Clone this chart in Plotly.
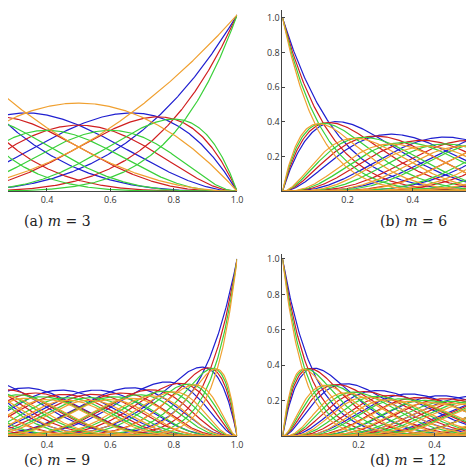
import numpy as np
from math import comb
import plotly.graph_objects as go

# panel parameters: polynomial degrees overlaid in each panel
panel_a_degrees = [3, 4, 5, 2]
panel_b_degrees = [6, 7, 8, 9]
panel_c_degrees = [9, 11, 13, 15]
panel_d_degrees = [12, 14, 16, 18]
colors = ["#1f1fd0", "#d01f1f", "#3ad03a", "#f0a030"]
captions = ["(a) <i>m</i> = 3", "(b) <i>m</i> = 6", "(c) <i>m</i> = 9", "(d) <i>m</i> = 12"]
x_ticks = [0.2, 0.4, 0.6, 0.8, 1.0]
y_ticks = [0.2, 0.4, 0.6, 0.8, 1.0]

t = np.linspace(0, 1, 400)
fig = go.Figure()
panels = [(panel_a_degrees, "x", "y"), (panel_b_degrees, "x2", "y2"),
          (panel_c_degrees, "x3", "y3"), (panel_d_degrees, "x4", "y4")]
for degs, xa, ya in panels:
    for ci, n in enumerate(degs):
        for k in range(n + 1):
            b = comb(n, k) * t**k * (1 - t)**(n - k)
            fig.add_trace(go.Scatter(x=t, y=b, mode="lines", xaxis=xa, yaxis=ya,
                                     line=dict(color=colors[ci], width=1.2), showlegend=False,
                                     hoverinfo="skip"))

ax = dict(showgrid=False, zeroline=False, showline=True, linecolor="#444", linewidth=1,
          ticks="inside", ticklen=3, tickcolor="#444", tickfont=dict(size=9, color="#333"),
          tickvals=x_ticks, ticktext=[f"{v:.1f}" for v in x_ticks])
ay = dict(showgrid=False, zeroline=False, showline=True, linecolor="#444", linewidth=1,
          ticks="inside", ticklen=3, tickcolor="#444", tickfont=dict(size=9, color="#333"),
          tickvals=y_ticks, ticktext=[f"{v:.1f}" for v in y_ticks])
fig.update_layout(
    width=474, height=474, margin=dict(l=0, r=0, t=0, b=0),
    plot_bgcolor="white", paper_bgcolor="white",
    xaxis=dict(ax, domain=[0, 0.4895], range=[0.277, 1.0], anchor="y"),
    yaxis=dict(ay, domain=[0.616, 1], range=[0, 1.028], anchor="x", showline=False,
               showticklabels=False, ticks=""),
    xaxis2=dict(ax, domain=[0.5865, 1], range=[0, 0.594], anchor="y2"),
    yaxis2=dict(ay, domain=[0.616, 1], range=[0, 1.046], anchor="x2"),
    xaxis3=dict(ax, domain=[0, 0.4895], range=[0.277, 1.0], anchor="y3"),
    yaxis3=dict(ay, domain=[0.097, 0.483], range=[0, 1.028], anchor="x3", showline=False,
                showticklabels=False, ticks=""),
    xaxis4=dict(ax, domain=[0.5865, 1], range=[0, 0.509], anchor="y4"),
    yaxis4=dict(ay, domain=[0.097, 0.483], range=[0, 1.028], anchor="x4"),
)
pos = [(0.0, 1 - 212/474, "left"), (1.0, 1 - 212/474, "right"),
       (0.0, 1 - 462/474, "left"), (1.0, 1 - 462/474, "right")]
xs = [0.03, 0.79, 0.03, 0.77]
for cap, (px, py, al), xx in zip(captions, pos, xs):
    fig.add_annotation(text=cap, x=xx, y=py, xref="paper", yref="paper", showarrow=False,
                       xanchor="left", font=dict(family="DejaVu Serif", size=14, color="#222"))
fig.write_html("out.html")
